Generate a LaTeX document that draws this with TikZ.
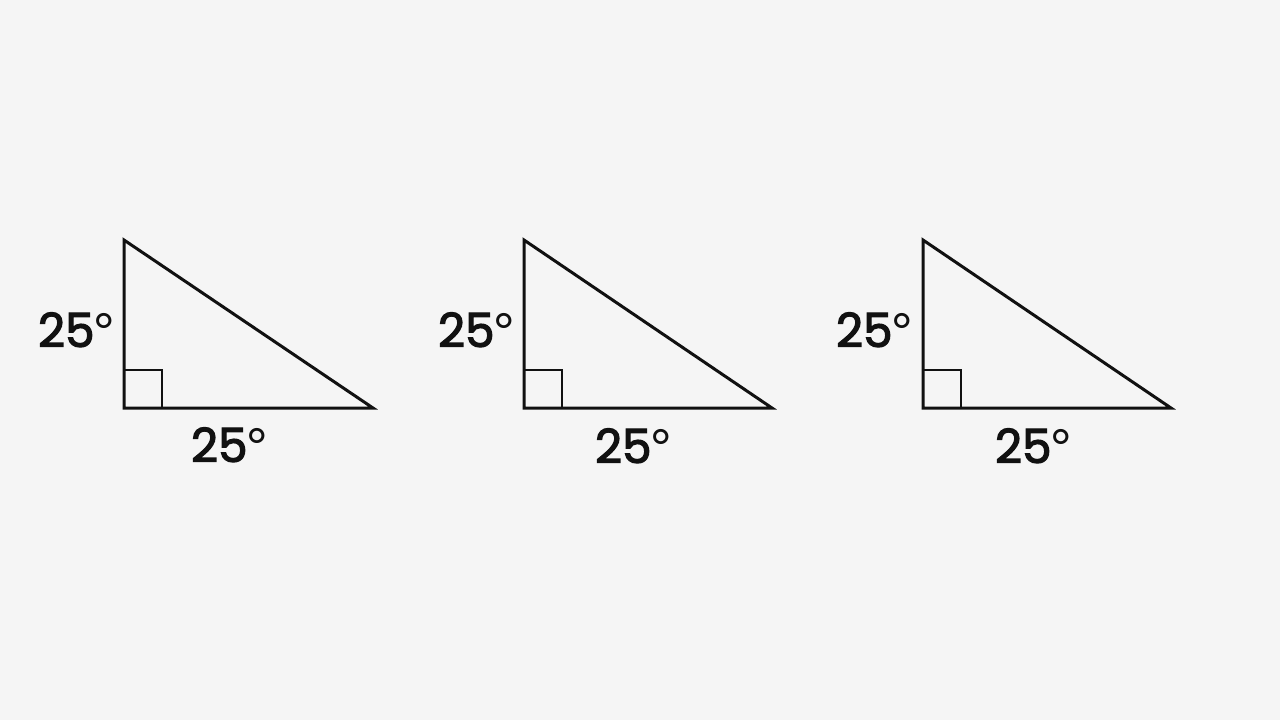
\documentclass[tikz,border=0pt]{standalone}
\usepackage{fontspec}
\setmainfont{Poppins}
\newfontfamily\lblfont[FakeBold=2.6]{Poppins}
\newfontfamily\degfont{Lato}
\newcommand{\degmark}{{\degfont °}}
\usepackage{tikz}
\usetikzlibrary{positioning,calc}
\definecolor{bgcol}{HTML}{F5F5F5}
\definecolor{inkcol}{HTML}{111111}

\begin{document}
\begin{tikzpicture}[x=1pt, y=-1pt,
    side/.style={draw=inkcol, line width=3pt, line join=miter},
    rightmark/.style={draw=inkcol, line width=1.8pt},
    lbl/.style={anchor=base, inner sep=0pt, text=inkcol, font=\lblfont\fontsize{47}{56}\selectfont}
]
\fill[bgcol] (0,0) rectangle (1280,720);
\useasboundingbox (0,0) rectangle (1280,720);

% first triangle
\coordinate (top1) at (124,240);
\coordinate (rt1) at (124,408);
\coordinate (end1) at (373,408);
\draw[side] (top1) -- (rt1) -- (end1) -- cycle;
\draw[rightmark] ($(rt1)+(0,-38)$) -- ++(38,0) -- ++(0,38);
\node[lbl] (lefta) at (76,347) {25\degmark};
\node[lbl] (bota) at (229,462) {25\degmark};

% second triangle
\coordinate (top2) at (524,240);
\coordinate (rt2) at (524,408);
\coordinate (end2) at (772,408);
\draw[side] (top2) -- (rt2) -- (end2) -- cycle;
\draw[rightmark] ($(rt2)+(0,-38)$) -- ++(38,0) -- ++(0,38);
\node[lbl] (leftb) at (476,347) {25\degmark};
\node[lbl] (botb) at (633,463) {25\degmark};

% third triangle
\coordinate (top3) at (923,240);
\coordinate (rt3) at (923,408);
\coordinate (end3) at (1171,408);
\draw[side] (top3) -- (rt3) -- (end3) -- cycle;
\draw[rightmark] ($(rt3)+(0,-38)$) -- ++(38,0) -- ++(0,38);
\node[lbl] (leftc) at (874,347) {25\degmark};
\node[lbl] (botc) at (1033,463) {25\degmark};
\end{tikzpicture}
\end{document}
